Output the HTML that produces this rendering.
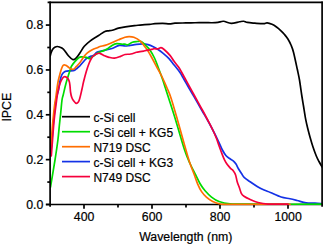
<!DOCTYPE html>
<html><head><meta charset="utf-8"><style>
html,body{margin:0;padding:0;background:#fff;width:325px;height:246px;overflow:hidden}
svg{display:block}
text{font-family:"Liberation Sans",sans-serif;font-size:12px;fill:#000;stroke:#000;stroke-width:0.2px}
</style></head><body>
<svg width="325" height="246" viewBox="0 0 325 246">
<rect width="325" height="246" fill="#fff"/>
<defs><clipPath id="c"><rect x="50" y="2" width="272" height="203.5"/></clipPath></defs>
<g stroke="#000" stroke-width="1.7" fill="none">
<line x1="46" y1="204.5" x2="322.8" y2="204.5"/>
<line x1="84.00" y1="204" x2="84.00" y2="208.7"/>
<line x1="152.00" y1="204" x2="152.00" y2="208.7"/>
<line x1="220.00" y1="204" x2="220.00" y2="208.7"/>
<line x1="288.00" y1="204" x2="288.00" y2="208.7"/>
<line x1="118.00" y1="204" x2="118.00" y2="207.6"/>
<line x1="186.00" y1="204" x2="186.00" y2="207.6"/>
<line x1="254.00" y1="204" x2="254.00" y2="207.6"/>
</g>
<g clip-path="url(#c)">
<path d="M50.20,56.00C50.37,55.42 50.78,53.62 51.20,52.50C51.62,51.38 52.10,50.17 52.70,49.30C53.30,48.43 54.02,47.77 54.80,47.30C55.58,46.83 56.53,46.52 57.40,46.50C58.27,46.48 59.18,46.90 60.00,47.20C60.82,47.50 61.58,47.80 62.30,48.30C63.02,48.80 63.28,48.95 64.30,50.20C65.32,51.45 67.00,54.25 68.40,55.80C69.80,57.35 71.47,59.05 72.70,59.50C73.93,59.95 74.57,59.63 75.80,58.50C77.03,57.37 78.68,54.73 80.10,52.70C81.52,50.67 82.65,48.23 84.30,46.30C85.95,44.37 87.83,42.77 90.00,41.10C92.17,39.43 95.63,37.38 97.30,36.30C98.97,35.22 98.73,35.40 100.00,34.60C101.27,33.80 103.48,32.13 104.90,31.50C106.32,30.87 107.27,31.00 108.50,30.80C109.73,30.60 110.63,30.75 112.30,30.30C113.97,29.85 116.03,28.72 118.50,28.10C120.97,27.48 124.43,27.02 127.10,26.60C129.77,26.18 132.35,25.85 134.50,25.60C136.65,25.35 137.48,25.32 140.00,25.10C142.52,24.88 147.10,24.53 149.60,24.30C152.10,24.07 152.82,23.85 155.00,23.70C157.18,23.55 160.27,23.38 162.70,23.40C165.13,23.42 167.55,23.83 169.60,23.80C171.65,23.77 172.30,23.34 175.00,23.20C177.70,23.06 182.47,23.02 185.80,22.95C189.13,22.88 191.80,22.80 195.00,22.75C198.20,22.70 202.17,22.65 205.00,22.65C207.83,22.65 209.83,22.80 212.00,22.75C214.17,22.70 216.08,22.60 218.00,22.35C219.92,22.10 221.30,21.08 223.50,21.25C225.70,21.42 228.52,23.27 231.20,23.35C233.88,23.43 237.52,22.10 239.60,21.75C241.68,21.40 242.40,21.13 243.70,21.25C245.00,21.37 245.55,22.13 247.40,22.45C249.25,22.77 252.13,22.94 254.80,23.15C257.47,23.36 261.35,23.74 263.40,23.70C265.45,23.66 265.67,22.80 267.10,22.90C268.53,23.00 270.43,23.62 272.00,24.30C273.57,24.98 275.00,25.92 276.50,27.00C278.00,28.08 279.67,29.55 281.00,30.80C282.33,32.05 283.35,33.13 284.50,34.50C285.65,35.87 286.82,37.25 287.90,39.00C288.98,40.75 290.07,42.80 291.00,45.00C291.93,47.20 292.45,48.15 293.50,52.20C294.55,56.25 296.30,64.67 297.30,69.30C298.30,73.93 298.77,75.72 299.50,80.00C300.23,84.28 301.03,90.67 301.70,95.00C302.37,99.33 302.83,101.93 303.50,106.00C304.17,110.07 304.95,115.48 305.70,119.40C306.45,123.32 307.25,126.45 308.00,129.50C308.75,132.55 309.37,134.78 310.20,137.70C311.03,140.62 311.98,143.95 313.00,147.00C314.02,150.05 315.30,153.58 316.30,156.00C317.30,158.42 317.97,159.58 319.00,161.50C320.03,163.42 321.92,166.50 322.50,167.50" stroke="#000000" stroke-width="1.7" fill="none" stroke-linejoin="round" stroke-linecap="round"/>
<path d="M50.80,153.00C51.07,150.00 52.00,139.67 52.40,135.00C52.80,130.33 52.90,128.33 53.20,125.00C53.50,121.67 53.85,118.33 54.20,115.00C54.55,111.67 54.92,108.00 55.30,105.00C55.68,102.00 55.97,99.50 56.50,97.00C57.03,94.50 57.97,92.42 58.50,90.00C59.03,87.58 59.28,84.65 59.70,82.50C60.12,80.35 60.53,78.57 61.00,77.10C61.47,75.63 61.90,74.60 62.50,73.70C63.10,72.80 63.85,72.13 64.60,71.70C65.35,71.27 66.18,71.23 67.00,71.10C67.82,70.97 68.47,70.98 69.50,70.90C70.53,70.82 72.28,70.75 73.20,70.60C74.12,70.45 74.40,70.35 75.00,70.00C75.60,69.65 76.22,69.00 76.80,68.50C77.38,68.00 77.97,67.45 78.50,67.00C79.03,66.55 78.93,66.97 80.00,65.80C81.07,64.63 83.65,61.32 84.90,60.00C86.15,58.68 86.45,58.55 87.50,57.90C88.55,57.25 90.12,56.55 91.20,56.10C92.28,55.65 92.98,55.87 94.00,55.20C95.02,54.53 95.53,52.92 97.30,52.10C99.07,51.28 102.15,50.90 104.60,50.30C107.05,49.70 109.55,49.32 112.00,48.50C114.45,47.68 117.13,45.82 119.30,45.40C121.47,44.98 123.37,45.97 125.00,46.00C126.63,46.03 127.18,45.88 129.10,45.60C131.02,45.32 134.18,44.60 136.50,44.30C138.82,44.00 141.08,43.75 143.00,43.80C144.92,43.85 146.28,44.10 148.00,44.60C149.72,45.10 151.63,45.98 153.30,46.80C154.97,47.62 156.40,48.45 158.00,49.50C159.60,50.55 161.07,51.58 162.90,53.10C164.73,54.62 167.17,56.67 169.00,58.60C170.83,60.53 172.07,62.38 173.90,64.70C175.73,67.02 178.48,70.35 180.00,72.50C181.52,74.65 182.00,75.88 183.00,77.60C184.00,79.32 184.83,80.77 186.00,82.80C187.17,84.83 188.67,87.50 190.00,89.80C191.33,92.10 192.67,94.32 194.00,96.60C195.33,98.88 196.92,101.60 198.00,103.50C199.08,105.40 199.75,106.67 200.50,108.00C201.25,109.33 201.33,109.50 202.50,111.50C203.67,113.50 205.78,116.92 207.50,120.00C209.22,123.08 211.00,126.50 212.80,130.00C214.60,133.50 216.70,137.67 218.30,141.00C219.90,144.33 221.10,147.55 222.40,150.00C223.70,152.45 224.83,154.23 226.10,155.70C227.37,157.17 228.82,157.95 230.00,158.80C231.18,159.65 232.20,159.93 233.20,160.80C234.20,161.67 235.15,162.72 236.00,164.00C236.85,165.28 237.38,166.92 238.30,168.50C239.22,170.08 240.48,171.98 241.50,173.50C242.52,175.02 242.95,176.22 244.40,177.60C245.85,178.98 248.00,180.28 250.20,181.80C252.40,183.32 255.28,185.32 257.60,186.70C259.92,188.08 261.97,189.13 264.10,190.10C266.23,191.07 267.57,191.35 270.40,192.50C273.23,193.65 277.83,195.96 281.10,197.00C284.37,198.04 287.33,198.17 290.00,198.75C292.67,199.33 294.42,199.81 297.10,200.50C299.78,201.19 303.12,202.45 306.10,202.90C309.08,203.35 312.35,203.08 315.00,203.20C317.65,203.32 320.83,203.53 322.00,203.60" stroke="#1432e6" stroke-width="1.7" fill="none" stroke-linejoin="round" stroke-linecap="round"/>
<path d="M50.50,187.00C51.25,182.50 53.77,167.83 55.00,160.00C56.23,152.17 57.17,145.83 57.90,140.00C58.63,134.17 58.92,129.67 59.40,125.00C59.88,120.33 60.37,116.17 60.80,112.00C61.23,107.83 61.60,102.83 62.00,100.00C62.40,97.17 62.55,97.72 63.20,95.00C63.85,92.28 64.82,87.65 65.90,83.70C66.98,79.75 68.75,74.25 69.70,71.30C70.65,68.35 70.58,67.78 71.60,66.00C72.62,64.22 74.65,61.93 75.80,60.60C76.95,59.27 77.62,58.62 78.50,58.00C79.38,57.38 79.78,57.00 81.10,56.90C82.42,56.80 84.92,57.15 86.40,57.40C87.88,57.65 88.18,59.08 90.00,58.40C91.82,57.72 95.55,54.40 97.30,53.30C99.05,52.20 99.28,52.30 100.50,51.80C101.72,51.30 103.35,50.85 104.60,50.30C105.85,49.75 106.77,49.32 108.00,48.50C109.23,47.68 110.53,46.22 112.00,45.40C113.47,44.58 115.18,43.80 116.80,43.60C118.42,43.40 120.33,44.10 121.70,44.20C123.07,44.30 124.00,44.10 125.00,44.20C126.00,44.30 126.47,45.13 127.70,44.80C128.93,44.47 130.80,42.75 132.40,42.20C134.00,41.65 136.03,41.65 137.30,41.50C138.57,41.35 139.18,41.18 140.00,41.30C140.82,41.42 141.28,41.57 142.20,42.20C143.12,42.83 144.87,44.50 145.50,45.10C146.13,45.70 145.27,44.98 146.00,45.80C146.73,46.62 148.48,47.97 149.90,50.00C151.32,52.03 153.08,55.00 154.50,58.00C155.92,61.00 157.13,64.67 158.40,68.00C159.67,71.33 160.93,74.67 162.10,78.00C163.27,81.33 164.32,84.67 165.40,88.00C166.48,91.33 166.90,92.67 168.60,98.00C170.30,103.33 172.93,111.33 175.60,120.00C178.27,128.67 182.20,142.75 184.60,150.00C187.00,157.25 188.15,159.33 190.00,163.50C191.85,167.67 194.02,171.62 195.70,175.00C197.38,178.38 198.53,181.17 200.10,183.80C201.67,186.43 203.20,188.58 205.10,190.80C207.00,193.02 209.18,195.32 211.50,197.10C213.82,198.88 215.92,200.38 219.00,201.50C222.08,202.62 224.83,203.35 230.00,203.80C235.17,204.25 234.67,204.13 250.00,204.20C265.33,204.27 310.00,204.20 322.00,204.20" stroke="#00dc00" stroke-width="1.7" fill="none" stroke-linejoin="round" stroke-linecap="round"/>
<path d="M50.50,153.00C50.72,150.00 51.47,139.67 51.80,135.00C52.13,130.33 52.22,128.33 52.50,125.00C52.78,121.67 53.15,118.33 53.50,115.00C53.85,111.67 54.20,108.00 54.60,105.00C55.00,102.00 55.53,99.50 55.90,97.00C56.27,94.50 56.42,92.67 56.80,90.00C57.18,87.33 57.70,83.57 58.20,81.00C58.70,78.43 59.25,76.63 59.80,74.60C60.35,72.57 60.90,70.37 61.50,68.80C62.10,67.23 62.67,65.77 63.40,65.20C64.13,64.63 65.10,65.10 65.90,65.40C66.70,65.70 67.50,66.48 68.20,67.00C68.90,67.52 69.37,68.12 70.10,68.50C70.83,68.88 71.87,69.28 72.60,69.30C73.33,69.32 73.90,69.03 74.50,68.60C75.10,68.17 75.58,67.37 76.20,66.70C76.82,66.03 77.57,65.30 78.20,64.60C78.83,63.90 79.40,63.30 80.00,62.50C80.60,61.70 81.10,60.85 81.80,59.80C82.50,58.75 83.27,57.37 84.20,56.20C85.13,55.03 86.05,53.88 87.40,52.80C88.75,51.72 90.65,50.55 92.30,49.70C93.95,48.85 96.02,48.23 97.30,47.70C98.58,47.17 98.72,46.88 100.00,46.50C101.28,46.12 103.43,45.85 105.00,45.40C106.57,44.95 107.15,44.73 109.40,43.80C111.65,42.87 115.90,40.90 118.50,39.80C121.10,38.70 123.22,37.73 125.00,37.20C126.78,36.67 127.73,36.58 129.20,36.60C130.67,36.62 132.00,36.60 133.80,37.30C135.60,38.00 138.20,39.27 140.00,40.80C141.80,42.33 143.37,44.97 144.60,46.50C145.83,48.03 146.17,48.08 147.40,50.00C148.63,51.92 150.35,55.00 152.00,58.00C153.65,61.00 155.53,64.67 157.30,68.00C159.07,71.33 160.98,74.67 162.60,78.00C164.22,81.33 165.60,84.67 167.00,88.00C168.40,91.33 169.25,92.67 171.00,98.00C172.75,103.33 175.25,112.17 177.50,120.00C179.75,127.83 182.50,138.00 184.50,145.00C186.50,152.00 187.85,157.00 189.50,162.00C191.15,167.00 193.05,171.37 194.40,175.00C195.75,178.63 196.43,181.07 197.60,183.80C198.77,186.53 199.93,189.18 201.40,191.40C202.87,193.62 204.52,195.42 206.40,197.10C208.28,198.78 210.38,200.35 212.70,201.50C215.02,202.65 217.42,203.52 220.30,204.00C223.18,204.48 218.38,204.33 230.00,204.40C241.62,204.47 280.00,204.40 290.00,204.40" stroke="#ff6e00" stroke-width="1.7" fill="none" stroke-linejoin="round" stroke-linecap="round"/>
<path d="M51.30,156.00C51.57,152.50 52.50,140.17 52.90,135.00C53.30,129.83 53.40,128.33 53.70,125.00C54.00,121.67 54.32,118.33 54.70,115.00C55.08,111.67 55.57,108.33 56.00,105.00C56.43,101.67 56.88,97.67 57.30,95.00C57.72,92.33 58.02,91.00 58.50,89.00C58.98,87.00 59.62,84.63 60.20,83.00C60.78,81.37 61.45,80.17 62.00,79.20C62.55,78.23 63.03,77.63 63.50,77.20C63.97,76.77 64.30,76.60 64.80,76.60C65.30,76.60 65.93,76.80 66.50,77.20C67.07,77.60 67.72,78.20 68.20,79.00C68.68,79.80 69.10,80.83 69.40,82.00C69.70,83.17 69.80,84.25 70.00,86.00C70.20,87.75 70.30,90.58 70.60,92.50C70.90,94.42 71.33,96.17 71.80,97.50C72.27,98.83 72.65,99.52 73.40,100.50C74.15,101.48 75.35,103.40 76.30,103.40C77.25,103.40 78.15,102.90 79.10,100.50C80.05,98.10 81.27,92.08 82.00,89.00C82.73,85.92 82.78,84.92 83.50,82.00C84.22,79.08 85.37,74.63 86.30,71.50C87.23,68.37 88.18,65.50 89.10,63.20C90.02,60.90 91.02,58.95 91.80,57.70C92.58,56.45 93.08,56.32 93.80,55.70C94.52,55.08 95.10,54.40 96.10,54.00C97.10,53.60 98.38,53.00 99.80,53.30C101.22,53.60 103.07,55.13 104.60,55.80C106.13,56.47 107.37,56.90 109.00,57.30C110.63,57.70 112.48,58.35 114.40,58.20C116.32,58.05 118.73,57.02 120.50,56.40C122.27,55.78 123.28,54.90 125.00,54.50C126.72,54.10 128.88,54.37 130.80,54.00C132.72,53.63 134.97,52.68 136.50,52.30C138.03,51.92 138.77,51.92 140.00,51.70C141.23,51.48 142.57,51.25 143.90,51.00C145.23,50.75 146.65,50.48 148.00,50.20C149.35,49.92 150.92,49.55 152.00,49.30C153.08,49.05 153.50,48.77 154.50,48.70C155.50,48.63 156.92,49.07 158.00,48.90C159.08,48.73 159.98,47.60 161.00,47.70C162.02,47.80 162.57,48.18 164.10,49.50C165.63,50.82 168.57,53.67 170.20,55.60C171.83,57.53 172.48,59.17 173.90,61.10C175.32,63.03 177.43,65.38 178.70,67.20C179.97,69.02 180.53,70.28 181.50,72.00C182.47,73.72 183.42,75.52 184.50,77.50C185.58,79.48 186.75,81.62 188.00,83.90C189.25,86.18 190.67,88.77 192.00,91.20C193.33,93.63 194.47,95.70 196.00,98.50C197.53,101.30 199.95,105.75 201.20,108.00C202.45,110.25 202.42,110.00 203.50,112.00C204.58,114.00 206.15,117.00 207.70,120.00C209.25,123.00 211.33,126.92 212.80,130.00C214.27,133.08 215.43,135.78 216.50,138.50C217.57,141.22 218.25,143.65 219.20,146.30C220.15,148.95 221.32,152.15 222.20,154.40C223.08,156.65 223.65,158.10 224.50,159.80C225.35,161.50 226.30,163.18 227.30,164.60C228.30,166.02 229.48,167.25 230.50,168.30C231.52,169.35 232.55,169.78 233.40,170.90C234.25,172.02 234.97,173.20 235.60,175.00C236.23,176.80 236.55,179.53 237.20,181.70C237.85,183.87 238.82,186.07 239.50,188.00C240.18,189.93 240.55,191.93 241.30,193.30C242.05,194.67 242.60,195.22 244.00,196.20C245.40,197.18 247.37,198.15 249.70,199.20C252.03,200.25 254.95,201.68 258.00,202.50C261.05,203.32 263.00,203.83 268.00,204.10C273.00,204.37 284.67,204.10 288.00,204.10" stroke="#f5003c" stroke-width="1.7" fill="none" stroke-linejoin="round" stroke-linecap="round"/>
</g>
<g stroke="#000" stroke-width="1.7" fill="none">
<line x1="47.6" y1="2.4" x2="322.8" y2="2.4"/>
<line x1="322.1" y1="1.6" x2="322.1" y2="206.8"/>
<line x1="50.1" y1="1.6" x2="50.1" y2="206.8"/>
<line x1="45.8" y1="204.50" x2="50" y2="204.50"/>
<line x1="45.8" y1="159.64" x2="50" y2="159.64"/>
<line x1="45.8" y1="114.78" x2="50" y2="114.78"/>
<line x1="45.8" y1="69.92" x2="50" y2="69.92"/>
<line x1="45.8" y1="25.06" x2="50" y2="25.06"/>
<line x1="47.3" y1="182.07" x2="50" y2="182.07"/>
<line x1="47.3" y1="137.21" x2="50" y2="137.21"/>
<line x1="47.3" y1="92.35" x2="50" y2="92.35"/>
<line x1="47.3" y1="47.49" x2="50" y2="47.49"/>
</g>
<line x1="62" y1="116.7" x2="90" y2="116.7" stroke="#000000" stroke-width="1.7"/>
<text x="93.4" y="122.00">c-Si cell</text>
<line x1="62" y1="131.7" x2="90" y2="131.7" stroke="#00dc00" stroke-width="1.7"/>
<text x="93.4" y="137.00">c-Si cell + KG5</text>
<line x1="62" y1="146.7" x2="90" y2="146.7" stroke="#ff6e00" stroke-width="1.7"/>
<text x="93.4" y="152.00">N719 DSC</text>
<line x1="62" y1="161.6" x2="90" y2="161.6" stroke="#1432e6" stroke-width="1.7"/>
<text x="93.4" y="166.90">c-Si cell + KG3</text>
<line x1="62" y1="176.6" x2="90" y2="176.6" stroke="#f5003c" stroke-width="1.7"/>
<text x="93.4" y="181.90">N749 DSC</text>
<text x="43.4" y="208.60" text-anchor="end" style="font-size:12.3px">0.0</text>
<text x="43.4" y="163.74" text-anchor="end" style="font-size:12.3px">0.2</text>
<text x="43.4" y="118.88" text-anchor="end" style="font-size:12.3px">0.4</text>
<text x="43.4" y="74.02" text-anchor="end" style="font-size:12.3px">0.6</text>
<text x="43.4" y="29.16" text-anchor="end" style="font-size:12.3px">0.8</text>
<text x="84.10" y="220.6" text-anchor="middle" style="font-size:12.3px">400</text>
<text x="152.10" y="220.6" text-anchor="middle" style="font-size:12.3px">600</text>
<text x="220.10" y="220.6" text-anchor="middle" style="font-size:12.3px">800</text>
<text x="288.10" y="220.6" text-anchor="middle" style="font-size:12.3px">1000</text>
<text x="185.8" y="241" text-anchor="middle" style="font-size:12.3px">Wavelength (nm)</text>
<text transform="translate(10.8,107.2) rotate(-90)" text-anchor="middle" style="font-size:12.3px">IPCE</text>
</svg>
</body></html>
